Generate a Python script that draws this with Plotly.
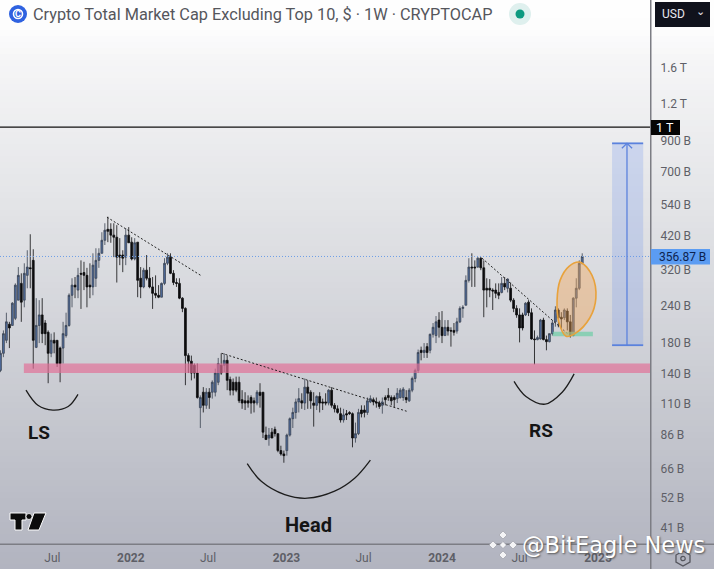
import numpy as np
import pandas as pd
import plotly.graph_objects as go

W, H = 714, 569
LAST_PRICE = 356.87
LAST_WEEK = "2024-11-25"

opens = [144,165,183,208,206,218,252,288,252,307,326,346,173,206,224,210,195,165,183,183,172,172,190,206,262,284,273,312,314,307,284,280,300,346,366,406,443,443,423,416,361,361,355,423,400,350,400,300,280,320,300,280,266,262,258,288,338,355,312,290,288,256,236,162,155,150,141,107,121,109,121,121,121,131,150,150,156,134,131,131,131,114,113,113,116,113,111,121,121,86,84,88,90,87,76,74,76,86,98,103,112,113,111,126,121,111,109,117,112,112,111,123,109,106,102,97,102,103,102,84,87,105,105,103,112,114,112,111,109,116,118,116,116,115,116,116,116,113,123,135,144,169,166,174,169,192,190,215,203,190,203,198,198,197,212,236,242,295,328,328,328,352,326,277,277,273,273,268,268,288,277,277,252,236,224,224,224,248,228,185,184,185,215,184,181,193,212,233,220,219,231,212,190,256,277,338]
highs = [169,198,228,212,248,288,328,312,338,375,426,378,256,252,256,215,198,193,195,183,174,212,228,266,300,303,326,346,342,326,338,366,381,381,433,465,490,465,465,458,413,375,447,451,416,413,400,328,326,361,328,303,307,284,290,352,366,366,320,300,300,258,238,165,162,152,152,118,126,125,125,133,146,159,165,165,162,137,135,137,137,123,121,118,118,116,123,130,121,92,91,91,92,87,79,76,87,99,107,115,125,120,135,133,123,121,118,121,115,120,124,126,111,109,107,106,105,104,103,95,106,109,109,116,118,116,116,113,116,118,125,118,118,125,125,126,123,125,137,146,170,174,179,179,193,210,222,229,231,215,215,203,210,219,240,242,307,352,366,346,355,355,346,300,298,277,288,288,303,303,300,290,256,242,236,228,248,252,236,198,190,217,219,190,193,215,240,236,229,236,236,224,258,300,346,366]
lows = [142,160,179,172,206,215,252,212,238,277,277,146,172,179,179,176,130,160,165,148,131,152,187,204,238,256,256,235,273,238,256,262,280,326,366,391,400,398,355,290,333,315,333,398,346,346,258,256,277,295,277,235,256,256,258,284,333,310,284,280,254,229,128,141,133,135,115,91,103,106,106,115,117,128,139,142,123,118,118,121,111,106,105,107,102,103,109,107,84,83,79,84,85,75,73,69,73,85,91,98,103,106,105,106,106,92,105,103,105,109,109,107,103,102,95,95,97,101,78,81,86,99,99,101,111,109,107,106,102,109,113,109,107,111,115,113,111,112,121,131,141,156,159,159,165,187,179,187,179,190,190,174,190,193,210,219,242,290,280,280,326,320,220,238,258,233,256,254,266,273,268,248,229,219,180,198,222,222,184,151,183,184,183,169,180,190,204,203,202,215,198,187,189,238,273,335]
closes = [165,193,212,202,246,284,307,248,312,328,324,183,206,224,193,193,165,183,179,152,152,193,206,262,284,280,307,310,307,280,280,333,346,366,406,440,436,423,416,355,355,352,423,398,350,398,295,280,320,300,280,266,262,258,288,338,355,312,290,288,256,236,162,155,141,141,116,116,109,121,116,131,141,152,141,156,133,123,123,123,113,111,111,111,111,111,121,118,88,83,86,84,87,76,74,73,86,98,103,112,115,111,126,120,113,109,117,111,111,111,123,109,106,103,97,101,101,102,84,87,103,102,103,113,115,112,111,108,112,114,116,113,114,120,123,124,114,123,135,144,166,166,169,166,192,203,212,203,190,203,197,197,195,212,236,238,295,328,326,326,352,326,273,273,273,271,266,262,288,280,298,252,236,224,202,202,246,228,185,184,187,215,184,181,193,210,233,219,217,233,212,190,256,277,338,356.87]

y_tick_vals = [1600, 1200, 900, 700, 540, 420, 320, 240, 180, 140, 110, 86, 66, 52, 41]
y_tick_text = ["1.6 T", "1.2 T", "900 B", "700 B", "540 B", "420 B", "320 B", "240 B", "180 B", "140 B", "110 B", "86 B", "66 B", "52 B", "41 B"]
x_tick_vals = ["2021-07-01", "2022-01-01", "2022-07-01", "2023-01-01", "2023-07-01", "2024-01-01", "2024-07-01", "2025-01-01"]
x_tick_text = ["Jul", "<b>2022</b>", "Jul", "<b>2023</b>", "Jul", "<b>2024</b>", "Jul", "<b>2025</b>"]

support_x = ["2021-04-25", "2025-05-03"]
support_top, support_bottom = 152, 141
trend_lines = [
    (["2021-11-06", "2022-06-17"], [488, 305]),
    (["2022-08-02", "2023-10-10"], [165, 104]),
    (["2024-04-04", "2024-11-01"], [352, 187]),
]
ls_arc = (["2021-04-30", "2021-05-28", "2021-07-02", "2021-08-07", "2021-08-30"], [123, 109, 105, 108, 119])
head_arc = (["2022-10-01", "2022-11-03", "2022-12-28", "2023-02-19", "2023-04-24", "2023-06-10", "2023-07-17"], [68.5, 59.5, 53.5, 52, 55, 61, 70.5])
rs_arc = (["2024-06-18", "2024-07-16", "2024-08-30", "2024-10-09", "2024-11-06"], [132, 117, 110, 121, 140])
ellipse_x = ["2024-11-20", "2024-12-18", "2024-12-27", "2024-12-13", "2024-11-08", "2024-10-18", "2024-10-01", "2024-09-27", "2024-10-04", "2024-10-25", "2024-11-20"]
ellipse_y = [341, 307, 256, 219, 193, 189, 212, 252, 295, 330, 341]
green_x = ["2024-09-17", "2024-12-20"]
green_y = [189, 196]
target_x = ["2025-02-03", "2025-04-17"]
target_y = [176, 879]
arrow_x = "2025-03-10"
arrow_head_x = ["2025-02-26", "2025-03-10", "2025-03-22"]
arrow_head_y = [845, 879, 845]

dates = pd.date_range(end=LAST_WEEK, periods=len(closes), freq="7D")

def px(x, y):
    return x / W, 1 - y / H

def band(xs, y0, y1, fill, name=None, line=None):
    return go.Scatter(x=[xs[0], xs[1], xs[1], xs[0], xs[0]], y=[y0, y0, y1, y1, y0],
                      mode="lines", fill="toself", fillcolor=fill,
                      line=dict(width=0 if line is None else 1.5, color=line or fill),
                      hoverinfo="skip", showlegend=False)

fig = go.Figure()
fig.add_trace(go.Candlestick(
    x=dates, open=opens, high=highs, low=lows, close=closes, whiskerwidth=0,
    increasing=dict(line=dict(color="#3a4250", width=0.8), fillcolor="#4f6c9e"),
    decreasing=dict(line=dict(color="#0c0c0e", width=0.8), fillcolor="#0c0c0e"),
    showlegend=False))

line_kw = dict(mode="lines", hoverinfo="skip", showlegend=False)
fig.add_trace(band(support_x, support_bottom, support_top, "rgba(226,110,150,0.68)"))
fig.add_trace(go.Scatter(x=["2021-02-28", "2025-05-03"], y=[LAST_PRICE, LAST_PRICE], line=dict(color="#6f9fe6", width=1, dash="1px,2px"), **line_kw))
fig.add_trace(go.Scatter(x=["2021-02-28", "2025-05-03"], y=[1000, 1000], line=dict(color="#111111", width=1.2), **line_kw))
for xs, ys in trend_lines:
    fig.add_trace(go.Scatter(x=xs, y=ys, line=dict(color="#222222", width=1, dash="2px,2px"), **line_kw))
for xs, ys in (ls_arc, head_arc, rs_arc):
    fig.add_trace(go.Scatter(x=xs, y=ys, line=dict(color="#1c1c1c", width=1.3, shape="spline", smoothing=1), **line_kw))
fig.add_trace(band(green_x, green_y[0], green_y[1], "rgba(110,205,165,0.7)"))
fig.add_trace(go.Scatter(x=ellipse_x, y=ellipse_y, fill="toself", fillcolor="rgba(245,170,90,0.42)",
                         line=dict(color="#e8a23c", width=1.6, shape="spline", smoothing=1), **line_kw))
fig.add_trace(band(target_x, target_y[0], target_y[1], "rgba(95,135,235,0.22)"))
for yv in target_y:
    fig.add_trace(go.Scatter(x=target_x, y=[yv, yv], line=dict(color="#5b82dd", width=1.8), **line_kw))
fig.add_trace(go.Scatter(x=[arrow_x, arrow_x], y=target_y, line=dict(color="#5b82dd", width=1.3), **line_kw))
fig.add_trace(go.Scatter(x=arrow_head_x, y=arrow_head_y, line=dict(color="#5b82dd", width=1.3), **line_kw))

# page background, as thin horizontal bands
shapes = []
stops_y = [0, 30, 60, 200, 440, 569]
stops_c = np.array([[255, 255, 255], [253, 253, 253], [246, 246, 247], [228, 229, 232], [195, 197, 205], [178, 180, 192]])
for y0 in range(0, H, 6):
    c = [int(np.interp(y0 + 3, stops_y, stops_c[:, i])) for i in range(3)]
    shapes.append(dict(type="rect", xref="paper", yref="paper", x0=0, x1=1, y0=1 - (y0 + 6) / H, y1=1 - y0 / H,
                       fillcolor=f"rgb({c[0]},{c[1]},{c[2]})", line_width=0, layer="below"))

def rect(x0, y0, x1, y1, color, layer="above", line=None):
    a, b = px(x0, y0); c, d = px(x1, y1)
    return dict(type="rect", xref="paper", yref="paper", x0=a, y0=b, x1=c, y1=d, fillcolor=color,
                line=dict(width=0 if line is None else 1, color=line), layer=layer)

def circ(cx, cy, r, color, line=None, lw=1):
    a, b = px(cx - r, cy - r); c, d = px(cx + r, cy + r)
    return dict(type="circle", xref="paper", yref="paper", x0=a, y0=b, x1=c, y1=d, fillcolor=color,
                line=dict(width=lw if line else 0, color=line or color))

def poly(points, fill, line=None, lw=1):
    path = "M " + " L ".join("%.5f,%.5f" % px(*p) for p in points) + " Z"
    return dict(type="path", xref="paper", yref="paper", path=path, fillcolor=fill,
                line=dict(width=lw if line else 0, color=line or fill))

# axes frame
shapes += [rect(650, 0, 651.5, H, "#7c7d84"), rect(0, 543.5, W, 545, "#7c7d84")]
# header
shapes += [circ(18, 14, 9, "#2f62e0"), circ(18, 14, 4.5, "rgba(0,0,0,0)", "#ffffff", 1.6), circ(520, 14, 11, "#dff0ee"), circ(520, 14, 4.5, "#0e9a80")]
# USD selector
shapes.append(rect(655, 2, 710, 27, "#10121c"))
# price tags
shapes.append(rect(651, 120, 680, 135, "#050505"))
shapes.append(rect(651, 249, 710, 264.5, "#5b9cf2"))
# TradingView mark
shapes += [
    poly([(10, 513), (26, 513), (26, 520), (22, 520), (22, 530), (15, 530), (15, 520), (10, 520)], "#0c0c0c", "#ffffff", 1),
    circ(29, 516.5, 3, "#0c0c0c", "#ffffff", 0.8),
    poly([(34, 513), (46, 513), (39, 530), (28, 530)], "#0c0c0c", "#ffffff", 1),
]
# gear
shapes += [poly([(683, 551), (690, 555), (690, 562), (683, 566), (676, 562), (676, 555)], "rgba(0,0,0,0)", "#55565e", 1.3),
           circ(683, 558.5, 2.2, "rgba(0,0,0,0)", "#55565e", 1.2)]
# watermark mark
for cx, cy, r in [(503, 545, 3.5), (503, 535, 4), (503, 555, 4), (493, 545, 4), (513, 545, 4)]:
    shapes.append(poly([(cx, cy - r), (cx + r, cy), (cx, cy + r), (cx - r, cy)], "#f4f4f6", "#8a8c96", 0.5))

def note(text, x, y, size, color, bold=False, family="Roboto", anchor="center", shadow=None):
    a, b = px(x, y)
    font = dict(size=size, color=color, family=family)
    if shadow:
        font["shadow"] = shadow
    return dict(text=f"<b>{text}</b>" if bold else text, xref="paper", yref="paper", x=a, y=b,
                xanchor=anchor, yanchor="middle", showarrow=False, font=font)

annotations = [
    note("Crypto Total Market Cap Excluding Top 10, $ · 1W · CRYPTOCAP", 31, 14, 16.3, "#55565c", anchor="left"),
    note("C", 18, 14, 9, "#ffffff", bold=True),
    note("USD", 660, 14, 12, "#e8e8ee", anchor="left"),
    note("⌄", 700, 12, 11, "#e8e8ee"),
    note("1 T", 665, 127.5, 12.5, "#ffffff"),
    note("356.87 B", 682, 257, 12, "#0d2350"),
    note("LS", 39, 432, 19, "#151515", bold=True),
    note("Head", 308, 525, 20, "#151515", bold=True),
    note("RS", 541, 430, 19, "#151515", bold=True),
    note("@BitEagle News", 520, 545, 22.5, "#ffffff", family="DejaVu Sans", anchor="left", shadow="1px 1px 2px #555555"),
]

fig.update_layout(
    width=W, height=H, margin=dict(l=0, r=0, t=0, b=0, pad=0),
    paper_bgcolor="rgba(0,0,0,0)", plot_bgcolor="rgba(0,0,0,0)",
    shapes=shapes, annotations=annotations, showlegend=False, hovermode=False, boxgap=0.12,
    font=dict(family="Roboto"),
    xaxis=dict(domain=[0, 650 / W], range=["2021-02-28", "2025-05-03"], rangeslider=dict(visible=False),
               showgrid=False, zeroline=False, showline=False, tickmode="array", tickvals=x_tick_vals, ticktext=x_tick_text,
               ticks="outside", ticklen=3, tickcolor="rgba(0,0,0,0)", tickangle=0,
               tickfont=dict(size=12, color="#5e5f67", family="Roboto")),
    yaxis=dict(domain=[25 / H, 1], type="log", range=[1.5576, 3.440], side="right", showgrid=False, zeroline=False,
               showline=False, tickmode="array", tickvals=y_tick_vals, ticktext=y_tick_text,
               ticks="outside", ticklen=7, tickcolor="rgba(0,0,0,0)", tickfont=dict(size=12, color="#5e5f67", family="Roboto")),
)

fig.write_html("out.html", post_script="document.body.style.margin='0';", config={"displayModeBar": False})
